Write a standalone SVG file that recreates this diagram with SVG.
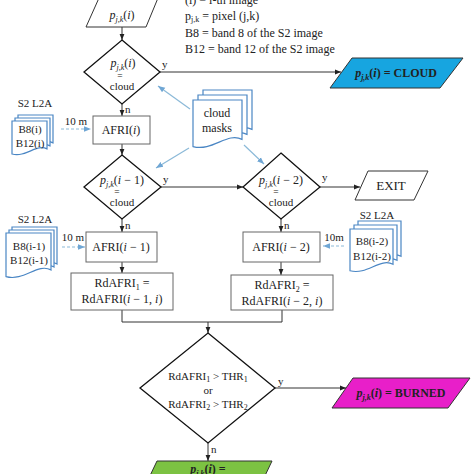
<svg xmlns="http://www.w3.org/2000/svg" width="474" height="474" viewBox="0 0 474 474">
<style>
text{font-family:"Liberation Serif","Times New Roman","DejaVu Serif",serif;fill:#222;font-size:12px}
.c{text-anchor:middle}
.it{font-style:italic}
.sub{font-size:8px}
.lg{font-size:10px}
.sm{font-size:11px}
.eq{font-size:9.5px}
.b{font-weight:bold}
.box{fill:#fff;stroke:#666;stroke-width:1}
.dia{fill:#fff;stroke:#111;stroke-width:1.3}
.io{stroke:#333;stroke-width:1}
.doc{fill:#fff;stroke:#4a86c4;stroke-width:1.2}
.ln{fill:none;stroke:#333;stroke-width:1}
.bl{fill:none;stroke:#8bb9d8;stroke-width:1.2}
.dash{fill:none;stroke:#8bb9d8;stroke-width:1.2;stroke-dasharray:3 2}
</style>
<defs>
<path id="doc" d="M0,0 H1 V0.82 C0.7,0.66 0.4,1.08 0,0.97 Z" vector-effect="non-scaling-stroke"/>
<marker id="ah" viewBox="0 0 10 10" refX="10" refY="5" markerWidth="6" markerHeight="6" orient="auto" markerUnits="userSpaceOnUse"><path d="M0,1 L10,5 L0,9 z" fill="#222"/></marker>
<marker id="ahb" viewBox="0 0 10 10" refX="10" refY="5" markerWidth="7" markerHeight="7" orient="auto" markerUnits="userSpaceOnUse"><path d="M0,1 L10,5 L0,9 z" fill="#6fa6d4"/></marker>
</defs>

<g id="legend" class="lg">
<text x="185" y="4">(i) = i-th image</text>
<text x="185" y="20">p<tspan class="sub" dy="2">j,k</tspan><tspan dy="-2"> = pixel (j,k)</tspan></text>
<text x="185" y="37">B8 = band 8 of the S2 image</text>
<text x="185" y="53">B12 = band 12 of the S2 image</text>
</g>

<g id="connectors">
<line class="ln" x1="122" y1="27" x2="122" y2="40" marker-end="url(#ah)"/>
<line class="ln" x1="160" y1="72" x2="341" y2="72" marker-end="url(#ah)"/>
<line class="ln" x1="122" y1="104" x2="122" y2="116" marker-end="url(#ah)"/>
<line class="ln" x1="122" y1="144" x2="122" y2="155" marker-end="url(#ah)"/>
<line class="ln" x1="161" y1="187" x2="243" y2="187" marker-end="url(#ah)"/>
<line class="ln" x1="122" y1="219" x2="122" y2="232" marker-end="url(#ah)"/>
<line class="ln" x1="320" y1="187" x2="360" y2="187" marker-end="url(#ah)"/>
<line class="ln" x1="281" y1="219" x2="281" y2="232" marker-end="url(#ah)"/>
<line class="ln" x1="122" y1="262" x2="122" y2="273" marker-end="url(#ah)"/>
<line class="ln" x1="281" y1="262" x2="281" y2="275" marker-end="url(#ah)"/>
<polyline class="ln" points="122,310 122,322 282,322 282,310"/>
<line class="ln" x1="208" y1="322" x2="208" y2="333" marker-end="url(#ah)"/>
<line class="ln" x1="275" y1="388" x2="346" y2="388" marker-end="url(#ah)"/>
<line class="ln" x1="208" y1="443" x2="208" y2="461" marker-end="url(#ah)"/>
<line class="bl" x1="190" y1="109" x2="158" y2="86" marker-end="url(#ahb)"/>
<line class="bl" x1="189" y1="148" x2="156" y2="168" marker-end="url(#ahb)"/>
<line class="bl" x1="244" y1="145" x2="264" y2="164" marker-end="url(#ahb)"/>
<line class="dash" x1="61" y1="129" x2="91" y2="129" marker-end="url(#ahb)"/>
<line class="dash" x1="62" y1="247" x2="85" y2="247" marker-end="url(#ahb)"/>
<line class="dash" x1="344" y1="246" x2="323" y2="246" marker-end="url(#ahb)"/>
<text class="sm" x="125" y="113">n</text>
<text class="sm" x="125" y="229">n</text>
<text class="sm" x="284" y="229">n</text>
<text class="sm" x="211" y="453">n</text>
<text class="sm" x="162" y="68">y</text>
<text class="sm" x="163" y="183">y</text>
<text class="sm" x="322" y="181">y</text>
<text class="sm" x="278" y="385">y</text>
<text class="sm c" x="76" y="125">10 m</text>
<text class="sm c" x="73" y="241">10 m</text>
<text class="sm c" x="334" y="241">10m</text>
</g>

<g id="input">
<polygon class="io" fill="#fff" points="99,-2 158,-2 146,27 86,27"/>
<text class="c" x="122" y="19"><tspan class="it">p</tspan><tspan class="sub it" dy="3">j,k</tspan><tspan dy="-3">(</tspan><tspan class="it">i</tspan>)</text>
</g>

<g id="dec1">
<polygon class="dia" points="122,40 160,72 122,104 84,72"/>
<text class="c" x="123" y="67"><tspan class="it">p</tspan><tspan class="sub it" dy="3">j,k</tspan><tspan dy="-3">(</tspan><tspan class="it">i</tspan>)</text>
<text class="c eq" x="120" y="79">=</text>
<text class="c sm" x="122" y="90">cloud</text>
</g>

<g id="cloudout">
<polygon class="io" fill="#17a5e0" points="352,58 463,58 440,88 330,88"/>
<text class="c b" x="396" y="77"><tspan class="it">p</tspan><tspan class="sub it" dy="3">j,k</tspan><tspan dy="-3">(</tspan><tspan class="it">i</tspan>) = CLOUD</text>
</g>

<g id="s2a">
<text class="sm c" x="35" y="107">S2 L2A</text>
<use href="#doc" class="doc" transform="translate(18,115) scale(35,34)"/>
<use href="#doc" class="doc" transform="translate(15,118) scale(35,34)"/>
<use href="#doc" class="doc" transform="translate(12,121) scale(35,34)"/>
<text class="sm c" x="30" y="133">B8(i)</text>
<text class="sm c" x="30" y="147">B12(i)</text>
</g>

<g id="afri">
<rect class="box" x="93" y="116" width="57" height="28"/>
<text class="c" x="121" y="134">AFRI(<tspan class="it">i</tspan>)</text>
</g>

<g id="masks">
<use href="#doc" class="doc" transform="translate(203,90) scale(49,48)"/>
<use href="#doc" class="doc" transform="translate(198,95) scale(49,48)"/>
<use href="#doc" class="doc" transform="translate(193,100) scale(49,48)"/>
<text class="c" x="217" y="117">cloud</text>
<text class="c" x="217" y="132">masks</text>
</g>

<g id="dec2">
<polygon class="dia" points="122,155 161,187 122,219 84,187"/>
<text class="c" x="122" y="184"><tspan class="it">p</tspan><tspan class="sub it" dy="3">j,k</tspan><tspan dy="-3">(</tspan><tspan class="it">i</tspan> − 1)</text>
<text class="c eq" x="117" y="195">=</text>
<text class="c sm" x="122" y="206">cloud</text>
</g>

<g id="dec3">
<polygon class="dia" points="281,153 320,187 281,219 243,187"/>
<text class="c" x="281" y="184"><tspan class="it">p</tspan><tspan class="sub it" dy="3">j,k</tspan><tspan dy="-3">(</tspan><tspan class="it">i</tspan> − 2)</text>
<text class="c eq" x="276" y="195">=</text>
<text class="c sm" x="281" y="206">cloud</text>
</g>

<g id="exit">
<polygon class="io" fill="#fff" points="368,171 428,171 414,200 355,200"/>
<text class="c" x="391" y="190" style="font-size:13px">EXIT</text>
</g>

<g id="s2b">
<text class="sm c" x="35" y="223">S2 L2A</text>
<use href="#doc" class="doc" transform="translate(12,227) scale(45,45)"/>
<use href="#doc" class="doc" transform="translate(9,230) scale(45,45)"/>
<use href="#doc" class="doc" transform="translate(6,233) scale(45,45)"/>
<text class="sm c" x="29" y="250">B8(i-1)</text>
<text class="sm c" x="29" y="264">B12(i-1)</text>
</g>

<g id="afri1">
<rect class="box" x="86" y="232" width="71" height="30"/>
<text class="c" x="121" y="251">AFRI(<tspan class="it">i</tspan> − 1)</text>
</g>

<g id="s2c">
<text class="sm c" x="377" y="219">S2 L2A</text>
<use href="#doc" class="doc" transform="translate(358,221) scale(43,43)"/>
<use href="#doc" class="doc" transform="translate(354,225) scale(43,43)"/>
<use href="#doc" class="doc" transform="translate(350,229) scale(43,43)"/>
<text class="sm c" x="372" y="245">B8(i-2)</text>
<text class="sm c" x="372" y="260">B12(i-2)</text>
</g>

<g id="afri2">
<rect class="box" x="243" y="232" width="77" height="30"/>
<text class="c" x="281" y="251">AFRI(<tspan class="it">i</tspan> − 2)</text>
</g>

<g id="rd1">
<rect class="box" x="71" y="273" width="102" height="37"/>
<text class="c" x="122" y="287">RdAFRI<tspan class="sub" dy="3">1</tspan><tspan dy="-3"> =</tspan></text>
<text class="c" x="122" y="303">RdAFRI(<tspan class="it">i</tspan> − 1, <tspan class="it">i</tspan>)</text>
</g>

<g id="rd2">
<rect class="box" x="231" y="275" width="102" height="35"/>
<text class="c" x="282" y="289">RdAFRI<tspan class="sub" dy="3">2</tspan><tspan dy="-3"> =</tspan></text>
<text class="c" x="282" y="305">RdAFRI(<tspan class="it">i</tspan> − 2, <tspan class="it">i</tspan>)</text>
</g>

<g id="dec4">
<polygon class="dia" points="208,333 275,388 208,443 140,388"/>
<text class="c sm" x="208" y="380">RdAFRI<tspan class="sub" dy="2">1</tspan><tspan dy="-2"> &gt; THR</tspan><tspan class="sub" dy="2">1</tspan></text>
<text class="c sm" x="208" y="394">or</text>
<text class="c sm" x="208" y="408">RdAFRI<tspan class="sub" dy="2">2</tspan><tspan dy="-2"> &gt; THR</tspan><tspan class="sub" dy="2">2</tspan></text>
</g>

<g id="burned">
<polygon class="io" fill="#e81fc9" points="353,378 470,378 448,408 332,408"/>
<text class="c b" x="401" y="397"><tspan class="it">p</tspan><tspan class="sub it" dy="3">j,k</tspan><tspan dy="-3">(</tspan><tspan class="it">i</tspan>) = BURNED</text>
</g>

<g id="unburned">
<polygon class="io" fill="#7cc242" points="157,461 272,461 262,482 147,482"/>
<text class="c b" x="208" y="473"><tspan class="it">p</tspan><tspan class="sub it" dy="3">j,k</tspan><tspan dy="-3">(</tspan><tspan class="it">i</tspan>) =</text>
</g>
</svg>
